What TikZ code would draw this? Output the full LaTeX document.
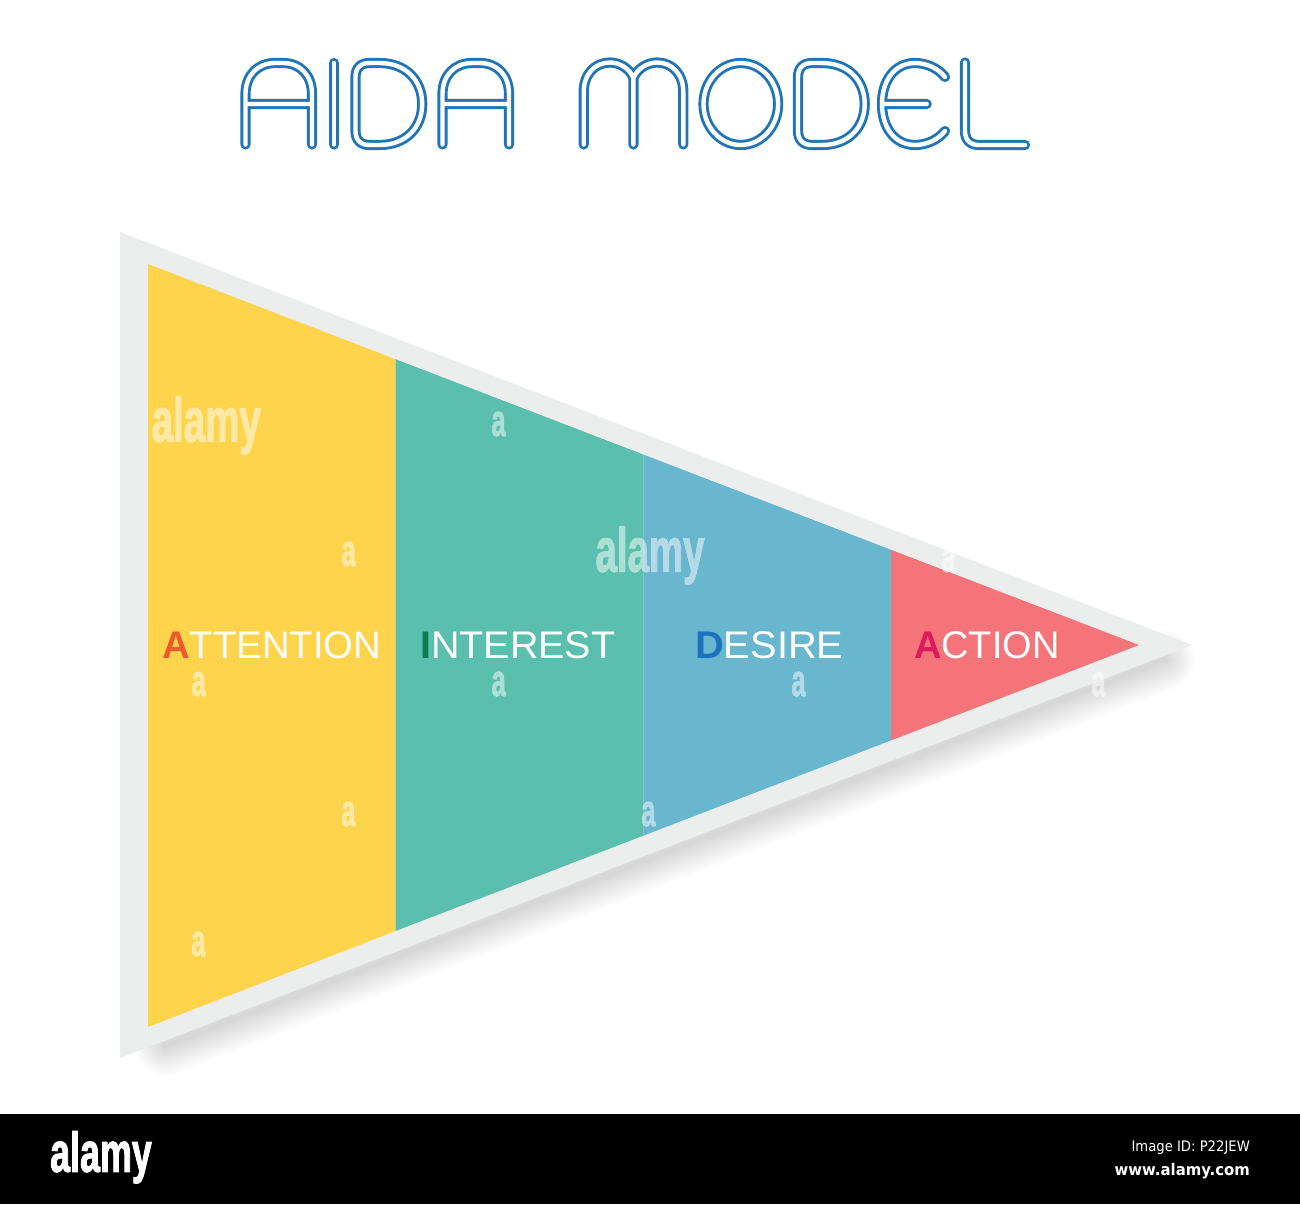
\documentclass[tikz,border=0pt]{standalone}
\usepackage{fontspec}
\setmainfont{Liberation Sans}
\newfontfamily\markfont{Liberation Sans}[UprightFont=* Bold,FakeBold=2.2]
\newfontfamily\footfont{DejaVu Sans}
\definecolor{bordergrey}{HTML}{ECEEEE}
\definecolor{segyellow}{HTML}{FFD44D}
\definecolor{segteal}{HTML}{5BBFAD}
\definecolor{segblue}{HTML}{69B6CF}
\definecolor{segred}{HTML}{F57479}
\definecolor{titleblue}{HTML}{1F75B8}
\definecolor{capA}{HTML}{EE5A2B}
\definecolor{capI}{HTML}{0E7A55}
\definecolor{capD}{HTML}{1E72BD}
\definecolor{capB}{HTML}{DD1B5C}
\newcommand{\titlestroke}[1]{%
  \draw[titleouter] #1;
  \draw[titleinner] #1;}
\newcommand{\pathA}{(245.5,144.5) -- (245.5,94) .. controls (245.5,75) and (258,63) .. (275,63) -- (283,63) .. controls (300,63) and (312,75) .. (312,94) -- (312,144.5) (245.5,104) -- (312,104)}
\newcommand{\pathD}{(798,77) .. controls (798,68) and (803,63) .. (812,63) -- (822,63) .. controls (848,63) and (864.7,80) .. (864.7,104) .. controls (864.7,128) and (848,145) .. (822,145) -- (812,145) .. controls (803,145) and (798,140) .. (798,131) -- cycle}
\newcommand{\capletter}[2]{\textcolor{#1}{\bfseries #2}}
\tikzset{
  x=1pt,y=-1pt,
  titleouter/.style={draw=titleblue,line width=10.2pt,line cap=round,line join=round},
  titleinner/.style={draw=white,line width=4.4pt,line cap=round,line join=round},
  label/.style={inner sep=0pt,anchor=base west,text=white,font=\fontsize{38.5}{38.5}\selectfont},
  bigmark/.style={inner sep=0pt,anchor=base,text=white,font=\markfont\fontsize{62}{62}\selectfont},
  smallmark/.style={inner sep=0pt,anchor=base,text=white,font=\markfont\fontsize{45}{45}\selectfont},
  markgroup/.style={transparency group,opacity=.5},
  shadowstroke/.style={draw=black,draw opacity=.0095,line cap=round},
}
\begin{document}
\begin{tikzpicture}
\useasboundingbox (0,0) rectangle (1300,1204);
\fill[white] (0,0) rectangle (1300,1204);
% shadow
\foreach \w in {60,57,...,3}
  \draw[shadowstroke,line width=\w pt] (165,1046) -- (1165,660);
% frame
\fill[bordergrey] (120,232) -- (1192,645) -- (120,1058) -- cycle;
% segments
\fill[segyellow] (148,264) -- (395.5,359.2) -- (395.5,931) -- (148,1027) -- cycle;
\fill[segteal] (395.5,359.2) -- (643.5,454.6) -- (643.5,835.6) -- (395.5,931) -- cycle;
\fill[segblue] (643.5,454.6) -- (891,549.8) -- (891,740.4) -- (643.5,835.6) -- cycle;
\fill[segred] (891,549.8) -- (1139,645) -- (891,740.4) -- cycle;
% labels
\node[label] (attention) at (162,658.3) {\scalebox{.995}[1]{\capletter{capA}{A}TTENTION}};
\node[label] (interest) at (420,658.3) {\scalebox{1.025}[1]{\capletter{capI}{I}NTEREST}};
\node[label] (desire) at (695,658.3) {\scalebox{1.035}[1]{\capletter{capD}{D}ESIRE}};
\node[label] (action) at (914,658.3) {\scalebox{.985}[1]{\capletter{capB}{A}CTION}};
% title
\titlestroke{\pathA}
\titlestroke{(334,63) -- (334,144.5)}
\begin{scope}[xshift=-442.5pt]\titlestroke{\pathD}\end{scope}
\begin{scope}[xshift=197pt]\titlestroke{\pathA}\end{scope}
\titlestroke{(583.7,144.5) -- (583.7,92) .. controls (583.7,74) and (595,62.5) .. (610,62.5) .. controls (620,62.5) and (630,69) .. (633.4,78) -- (633.4,144.5) (633.4,78) .. controls (637,69) and (647,62.5) .. (657,62.5) .. controls (672,62.5) and (683.3,74) .. (683.3,92) -- (683.3,144.5)}
\titlestroke{(740.8,104) ellipse [x radius=37.3,y radius=41]}
\titlestroke{\pathD}
\titlestroke{(945,77) .. controls (938,68) and (926,63) .. (915,63) .. controls (895,63) and (882,80) .. (882,104) .. controls (882,128) and (895,145) .. (915,145) .. controls (926,145) and (938,140) .. (945,131) (882,104) -- (926.7,104)}
\titlestroke{(965,62.5) -- (965,131) .. controls (965,140) and (970,145) .. (979,145) -- (1025,145)}
% watermarks
\begin{scope}[markgroup]
\node[bigmark] (markone) at (206.2,441.5) {\scalebox{.62}[1]{alamy}};
\node[bigmark] (marktwo) at (650,571.5) {\scalebox{.62}[1]{alamy}};
\foreach \n/\px/\py in {a/498.5/436,b/348.7/566,c/198.7/696,d/498.7/696,e/798.5/696,f/1098.5/696,g/348.5/826,h/648.5/826,i/198.5/956,j/948.5/572}
  \node[smallmark] (small\n) at (\px,\py) {\scalebox{.56}[1]{a}};
\end{scope}
% footer
\fill[black] (0,1114) rectangle (1300,1204);
\node[inner sep=0pt,anchor=base,text=white,font=\markfont\fontsize{56}{56}\selectfont] (footlogo) at (101,1171.7) {\scalebox{.64}[1]{alamy}};
\node[inner sep=0pt,anchor=base east,text=white,font=\footfont\fontsize{14.5}{14.5}\selectfont] (footid) at (1250,1151) {\scalebox{.91}[1]{Image ID: P22JEW}};
\node[inner sep=0pt,anchor=base east,text=white,font=\footfont\bfseries\fontsize{16}{16}\selectfont] (footurl) at (1250,1175) {\scalebox{.93}[1]{www.alamy.com}};
\end{tikzpicture}
\end{document}
